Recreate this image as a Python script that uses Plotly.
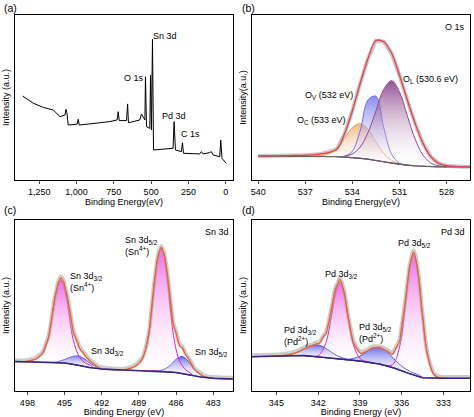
import numpy as np
import plotly.graph_objects as go

# ---- (a) survey ----
survey_ev = [1362, 1290, 1223, 1156, 1112, 1078, 1071, 1065, 1056, 996, 989, 982, 844, 777, 728, 721, 714,
             665, 658, 652, 576, 565, 549, 542, 538, 531, 509, 504, 498, 491, 484, 353, 346, 337, 297, 290,
             283, 174, 163, 152, 107, 96, 85, 40, 33, 25, -4]
survey_int = [50.9, 46.5, 44.0, 42.4, 38.4, 39.4, 42.8, 40.8, 33.3, 33.9, 36.8, 33.3, 34.7, 35.4, 36.4, 41.4, 36.0,
              36.0, 46.1, 34.7, 36.4, 40.0, 37.4, 36.4, 62.6, 32.3, 31.3, 63.6, 30.3, 85.3, 18.2, 19.2, 35.4, 18.2, 17.2, 22.6,
              16.2, 15.8, 17.2, 15.8, 16.6, 17.2, 15.2, 14.1, 24.2, 13.1, 10.1]

# ---- (b) O 1s ----
o_bg_x = [540, 538, 537, 536.5, 536, 535.5, 535, 534.5, 534, 533.5, 533, 532.5, 532, 531.5, 531, 530.5, 530, 529.5, 529, 528.5, 528, 527, 526.5]
o_bg_y = [14.5, 14.5, 14.5, 14.4, 14.3, 14.2, 14.1, 13.9, 13.6, 13.2, 12.6, 11.8, 11, 10.2, 9.5, 9, 8.6, 8.3, 8.1, 8, 8, 8, 8]
o_env_x = [540, 538, 537, 536, 535, 534.5, 534, 533.5, 533, 532.5, 532, 531.5, 531, 530.5, 530, 529.5, 529, 528.5, 528, 527, 526.5]
o_env_y = [14.5, 14.8, 15.0, 15.8, 18.6, 28, 42, 58.6, 73.7, 84.4, 83.8, 76.8, 63.6, 48.5, 34.3, 22.2, 14.1, 10.1, 8.7, 8.1, 8.0]
ol_x = [534.5, 534, 533.5, 533, 532.5, 532, 531.5, 531, 530.5, 530, 529.5, 529, 528.5, 528]
ol_y = [14.5, 15.8, 20, 28.8, 41.8, 55, 60.2, 53.5, 39, 24.8, 15.1, 10.3, 8.6, 8]
ov_x = [535, 534.5, 534, 533.5, 533, 532.5, 532, 531.5, 531, 530.5]
ov_y = [14.1, 14.4, 17.5, 30, 48.6, 50.8, 31.8, 15.7, 10.2, 9]
oc_x = [537, 536.5, 536, 535.5, 535, 534.5, 534, 533.5, 533, 532.5, 532, 531.5, 531, 530.5, 530]
oc_y = [14.5, 14.5, 14.7, 16, 19.3, 25.2, 31.7, 34.2, 30.7, 23.1, 16.2, 12, 9.9, 9.1, 8.6]

# ---- (c) Sn 3d ----
sn_bg_x = [499, 497, 495, 494, 493, 492, 490, 488, 487, 486, 485, 484, 483, 481.4]
sn_bg_y = [17.2, 17.0, 16.4, 15.2, 13.8, 12.9, 12.2, 11.8, 11.5, 10.8, 9.5, 8.2, 7.4, 7.0]
sn1_x = [498.3, 497.8, 497.3, 496.8, 496.3, 495.8, 495.55, 495.3, 495.05, 494.8, 494.3, 493.8, 493.3, 492.8]
sn1_y = [17.1, 17.7, 18.8, 21.7, 31.2, 53.4, 61.5, 64.8, 61.3, 53, 30.1, 19.9, 16.2, 14.6]
sn2_x = [490.2, 489.7, 489.2, 488.7, 488.2, 487.7, 487.45, 487.2, 486.95, 486.7, 486.2, 485.7, 485.2, 484.7]
sn2_y = [12.2, 13.2, 14.9, 19.1, 33.3, 66.3, 78.5, 83.5, 78.3, 65.8, 32.3, 17.3, 12.2, 9.7]
sn3_x = [496.4, 495.6, 494.9, 494.4, 493.9, 493.4, 492.9, 492.2, 491.4]
sn3_y = [16.7, 17.05, 18.7, 20.1, 20.5, 18.8, 16.1, 13.45, 12.5]
sn4_x = [488, 487.2, 486.5, 486, 485.5, 485, 484.5, 483.8, 483]
sn4_y = [11.8, 12.05, 14.7, 18.55, 20.2, 17.25, 12.5, 8.55, 7.4]

# ---- (d) Pd 3d ----
pd_bg_x = [346.75, 343, 341, 339, 337.5, 336.5, 335.5, 334.5, 333, 331.1]
pd_bg_y = [20.1, 20.7, 19.1, 17.5, 15.6, 13.3, 10.3, 7.8, 7.4, 7.4]
pd1_x = [342.95, 342.45, 341.95, 341.45, 341.05, 340.75, 340.45, 340.15, 339.85, 339.45, 338.95, 338.45, 337.95]
pd1_y = [20.3, 20.2, 20.9, 28, 43.9, 57.6, 63.7, 57.2, 42.9, 26.5, 18.6, 17.1, 16.4]
pd2_x = [337.65, 337.15, 336.65, 336.15, 335.75, 335.45, 335.15, 334.85, 334.55, 334.15, 333.65, 333.15, 332.65]
pd2_y = [15.6, 14.9, 15.5, 25.9, 50, 71.1, 80.3, 69.8, 47.3, 21.2, 9.2, 7.5, 7.4]
pd3_x = [345.1, 344.3, 343.6, 343.1, 342.6, 342.1, 341.6, 341.1, 340.6, 339.9, 339.1]
pd3_y = [20.5, 20.95, 22.35, 24.3, 26.3, 27, 25.7, 23, 20.55, 18.55, 17.5]
pd4_x = [340.6, 339.8, 339.1, 338.6, 338.1, 337.6, 337.1, 336.6, 336.1, 335.4, 334.6]
pd4_y = [18.8, 18.6, 20, 22.4, 25, 25.6, 23.4, 19.2, 15.1, 11.4, 8.6]

FONT = "Liberation Sans"
fig = go.Figure()


def bg_at(x, bx, by):
    return list(np.interp(x, bx[::-1], by[::-1]))


def component(xs, ys, bx, by, line, top, xa, ya):
    px = list(xs) + list(xs[::-1])
    py = list(ys) + bg_at(xs[::-1], bx, by)
    fig.add_trace(go.Scatter(
        x=px, y=py, mode="lines", fill="toself", line=dict(color=line, width=1, shape="spline"),
        fillgradient=dict(type="vertical", colorscale=[[0, "rgba(255,255,255,0.1)"], [1, top]]),
        xaxis=xa, yaxis=ya, hoverinfo="skip"))


def envelope(bx, by, comps, xa, ya, color):
    xs = np.array(sorted(set(bx) | {v for c in comps for v in c[0]}), dtype=float)[::-1]
    base = np.interp(xs, bx[::-1], by[::-1])
    tot = base.copy()
    for cx, cy in comps:
        cb = np.interp(cx, bx[::-1], by[::-1])
        d = np.array(cy) - cb
        tot += np.interp(xs, cx[::-1], d[::-1], left=0, right=0)
    fig.add_trace(go.Scatter(x=xs, y=tot + 0.8, mode="lines", line=dict(color="rgba(170,170,170,0.6)", width=4, shape="spline"),
                             xaxis=xa, yaxis=ya, hoverinfo="skip"))
    fig.add_trace(go.Scatter(x=xs, y=tot, mode="lines", line=dict(color=color, width=1.3, shape="spline"),
                             xaxis=xa, yaxis=ya, hoverinfo="skip"))


def line(x, y, color, xa, ya, w=1.2):
    fig.add_trace(go.Scatter(x=x, y=y, mode="lines", line=dict(color=color, width=w), xaxis=xa, yaxis=ya, hoverinfo="skip"))


# (a)
line(survey_ev, survey_int, "black", "x", "y", 1)

# (b)
line(o_env_x, o_env_y, "rgba(175,175,175,0.7)", "x2", "y2", 4)
component(oc_x, oc_y, o_bg_x, o_bg_y, "#f0a050", "rgba(240,150,70,0.7)", "x2", "y2")
component(ov_x, ov_y, o_bg_x, o_bg_y, "#7070e8", "rgba(100,100,230,0.75)", "x2", "y2")
component(ol_x, ol_y, o_bg_x, o_bg_y, "#904a90", "rgba(120,40,120,0.8)", "x2", "y2")
line(o_bg_x, o_bg_y, "#606060", "x2", "y2")
fig.add_trace(go.Scatter(x=o_env_x, y=o_env_y, mode="lines", line=dict(color="#e8404c", width=1.3, shape="spline"),
                         xaxis="x2", yaxis="y2", hoverinfo="skip"))

# (c)
component(sn3_x, sn3_y, sn_bg_x, sn_bg_y, "#5050e0", "rgba(70,70,230,0.8)", "x3", "y3")
component(sn4_x, sn4_y, sn_bg_x, sn_bg_y, "#5050e0", "rgba(70,70,230,0.8)", "x3", "y3")
component(sn1_x, sn1_y, sn_bg_x, sn_bg_y, "#e020c0", "rgba(235,70,225,0.8)", "x3", "y3")
component(sn2_x, sn2_y, sn_bg_x, sn_bg_y, "#e020c0", "rgba(235,70,225,0.8)", "x3", "y3")
envelope(sn_bg_x, sn_bg_y, [(sn1_x, sn1_y), (sn2_x, sn2_y), (sn3_x, sn3_y), (sn4_x, sn4_y)], "x3", "y3", "#f06030")
line(sn_bg_x, sn_bg_y, "#302a80", "x3", "y3", 1.5)

# (d)
component(pd3_x, pd3_y, pd_bg_x, pd_bg_y, "#5050e0", "rgba(70,70,230,0.8)", "x4", "y4")
component(pd4_x, pd4_y, pd_bg_x, pd_bg_y, "#5050e0", "rgba(70,70,230,0.8)", "x4", "y4")
component(pd1_x, pd1_y, pd_bg_x, pd_bg_y, "#e020c0", "rgba(235,70,225,0.8)", "x4", "y4")
component(pd2_x, pd2_y, pd_bg_x, pd_bg_y, "#e020c0", "rgba(235,70,225,0.8)", "x4", "y4")
envelope(pd_bg_x, pd_bg_y, [(pd1_x, pd1_y), (pd2_x, pd2_y), (pd3_x, pd3_y), (pd4_x, pd4_y)], "x4", "y4", "#f06030")
line(pd_bg_x, pd_bg_y, "#302a80", "x4", "y4", 1.5)

axis = dict(showline=True, mirror=True, linecolor="black", linewidth=1, ticks="outside", ticklen=3,
            tickfont=dict(size=9, color="black"), showgrid=False, zeroline=False, title_standoff=2)
ax_left = [15 / 474, 233 / 474]
ax_right = [252 / 474, 470 / 474]
top = [1 - 180 / 417, 1 - 15 / 417]
bot = [1 - 391 / 417, 1 - 220 / 417]
yax = dict(axis, range=[0, 100], showticklabels=False, ticks="")

def ttl(t):
    return dict(text=t, font=dict(size=9, color="black"))

fig.update_layout(
    width=474, height=417, margin=dict(l=0, r=0, t=0, b=0), showlegend=False,
    plot_bgcolor="white", paper_bgcolor="white", font=dict(family=FONT, color="black"),
    xaxis=dict(axis, domain=ax_left, anchor="y", range=[1413, -49], tickvals=[1250, 1000, 750, 500, 250, 0],
               tickformat=",", title=ttl("Binding Energy(eV)")),
    yaxis=dict(yax, domain=top, anchor="x", title=ttl("Intensity (a.u.)")),
    xaxis2=dict(axis, domain=ax_right, anchor="y2", range=[540.4, 526.5], tickvals=[540, 537, 534, 531, 528],
                title=ttl("Binding Energy(eV)")),
    yaxis2=dict(yax, domain=top, anchor="x2", title=ttl("Intensity(a.u.)")),
    xaxis3=dict(axis, domain=ax_left, anchor="y3", range=[499, 481.4], tickvals=[498, 495, 492, 489, 486, 483],
                title=ttl("Binding Energy (eV)")),
    yaxis3=dict(yax, domain=bot, anchor="x3", title=ttl("Intensity (a.u.)")),
    xaxis4=dict(axis, domain=ax_right, anchor="y4", range=[346.75, 331.1], tickvals=[345, 342, 339, 336, 333],
                title=ttl("Binding Energy (eV)")),
    yaxis4=dict(yax, domain=bot, anchor="x4", title=ttl("Intensity (a.u.)")),
)

def ann(text, x, y, xr, yr, xanchor="center", size=9, align="center"):
    fig.add_annotation(text=text, x=x, y=y, xref=xr, yref=yr, showarrow=False, xanchor=xanchor,
                       align=align, font=dict(size=size, color="black"))

# panel letters
for t, x, y in [("(a)", 2, 409), ("(b)", 240, 409), ("(c)", 2, 207), ("(d)", 240, 207)]:
    fig.add_annotation(text=t, x=x / 474, y=y / 417, xref="paper", yref="paper", showarrow=False,
                       xanchor="left", yanchor="middle", font=dict(size=10.5, color="black"))

ann("Sn 3d", 404, 87, "x", "y")
ann("O 1s", 616, 62, "x", "y")
ann("Pd 3d", 346, 39, "x", "y")
ann("C 1s", 237, 28, "x", "y")

ann("O 1s", 526.7, 93, "x2", "y2", "right")
ann("O<sub>L</sub> (530.6 eV)", 529.0, 61, "x2", "y2")
ann("O<sub>V</sub> (532 eV)", 535.5, 51, "x2", "y2")
ann("O<sub>C</sub> (533 eV)", 536.0, 36, "x2", "y2")

ann("Sn 3d", 481.6, 93, "x3", "y3", "right")
ann("Sn 3d<sub>3/2</sub><br>(Sn<sup>4+</sup>)", 494.7, 64, "x3", "y3", "left", align="left")
ann("Sn 3d<sub>5/2</sub><br>(Sn<sup>4+</sup>)", 490.3, 85, "x3", "y3", "left", align="left")
ann("Sn 3d<sub>3/2</sub>", 493.0, 23, "x3", "y3", "left")
ann("Sn 3d<sub>5/2</sub>", 484.6, 22.5, "x3", "y3", "left")

ann("Pd 3d", 331.3, 93, "x4", "y4", "right")
ann("Pd 3d<sub>5/2</sub>", 335.1, 86.5, "x4", "y4")
ann("Pd 3d<sub>3/2</sub>", 340.3, 68, "x4", "y4")
ann("Pd 3d<sub>3/2</sub><br>(Pd<sup>2+</sup>)", 344.6, 32, "x4", "y4", "left", align="left")
ann("Pd 3d<sub>5/2</sub><br>(Pd<sup>2+</sup>)", 339.2, 34, "x4", "y4", "left", align="left")

fig.write_html("out.html", config={"displayModeBar": False},
               post_script="document.body.style.margin='0';document.body.style.overflow='hidden';")
